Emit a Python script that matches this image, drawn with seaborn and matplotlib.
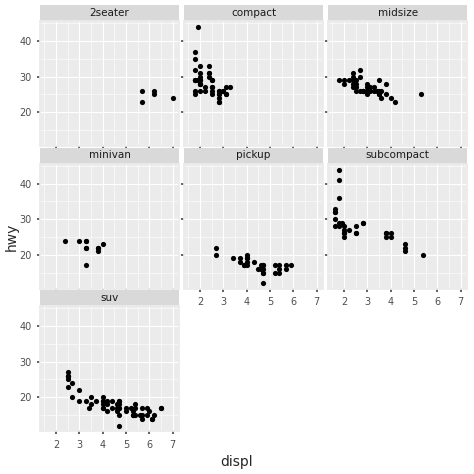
import pandas as pd
import seaborn as sns
import matplotlib.pyplot as plt

# points per class (displ, hwy)
two_seater_displ = [5.7, 5.7, 6.2, 6.2, 7.0]
two_seater_hwy = [26, 23, 26, 25, 24]

compact_displ = [1.8, 1.8, 2.0, 2.0, 2.8, 2.8, 3.1, 1.8, 1.8, 2.0, 2.0, 2.8, 2.8, 3.1, 3.1,
                 2.2, 2.2, 2.4, 2.4, 3.0, 3.0, 3.3, 1.8, 1.8, 1.8, 1.9, 2.0, 2.0, 2.5, 2.5,
                 2.8, 2.8, 2.4, 2.4, 2.5, 2.5, 2.5, 2.5, 1.9, 1.9, 2.0, 2.0, 2.8, 2.0, 1.8]
compact_hwy = [29, 29, 31, 30, 26, 26, 27, 26, 25, 28, 28, 25, 25, 25, 25,
               26, 27, 30, 33, 26, 26, 27, 37, 35, 29, 44, 29, 26, 29, 29,
               23, 24, 31, 31, 27, 26, 25, 27, 29, 29, 28, 29, 23, 33, 32]

midsize_displ = [2.4, 2.5, 2.4, 3.0, 3.5, 3.6, 2.2, 2.4, 2.4, 3.0, 3.1, 3.3, 3.5, 3.8,
                 2.5, 2.5, 3.0, 3.5, 2.4, 3.0, 4.0, 4.2, 5.3, 2.8, 2.8, 3.1, 2.7, 2.7,
                 3.4, 1.8, 2.0, 2.8, 3.5, 2.0, 3.3, 3.0, 3.8, 2.5, 2.7, 3.6, 2.4]
midsize_hwy = [29, 29, 27, 26, 25, 26, 29, 29, 31, 27, 26, 26, 29, 28,
               27, 26, 26, 26, 30, 28, 24, 23, 25, 26, 26, 27, 30, 32,
               26, 29, 29, 26, 25, 28, 27, 25, 25, 28, 26, 24, 28]

minivan_displ = [2.4, 3.0, 3.3, 3.3, 3.3, 3.3, 3.8, 3.8, 3.8, 4.0, 3.3]
minivan_hwy = [24, 24, 22, 22, 24, 24, 21, 22, 22, 23, 17]

pickup_displ = [2.7, 2.7, 3.4, 3.7, 3.9, 4.0, 4.0, 4.7, 4.7, 5.2, 5.7, 5.9, 4.7, 4.6,
                5.4, 5.4, 4.0, 4.6, 4.7, 5.2, 3.9, 4.7, 4.0, 4.0, 4.7, 5.7, 3.7, 4.3, 4.5, 5.4]
pickup_hwy = [20, 22, 19, 18, 17, 17, 19, 17, 12, 17, 16, 17, 16, 17,
              17, 15, 19, 16, 15, 15, 17, 17, 18, 20, 15, 17, 19, 18, 16, 16]

subcompact_displ = [1.8, 1.6, 1.6, 1.6, 1.8, 1.8, 1.8, 1.9, 2.0, 2.0, 2.5, 2.8, 2.8, 3.8,
                    3.8, 4.0, 4.6, 4.6, 5.4, 4.0, 4.6, 2.0, 1.6, 1.8, 2.0, 2.2, 2.5, 2.0,
                    3.8, 1.6, 2.5]
subcompact_hwy = [29, 33, 32, 32, 36, 44, 41, 29, 26, 28, 26, 29, 29, 26,
                  25, 26, 23, 21, 20, 25, 22, 27, 30, 28, 26, 27, 26, 25,
                  26, 28, 28]

suv_displ = [2.5, 2.5, 2.5, 2.5, 2.7, 3.0, 3.4, 4.0, 4.0, 4.2, 4.6, 5.3, 5.7, 6.5, 4.7,
             4.0, 5.4, 6.2, 5.3, 3.7, 4.7, 5.7, 4.4, 4.4, 4.0, 4.6, 5.0, 4.2, 5.4, 5.9,
             6.1, 4.7, 5.3, 4.0, 3.5, 3.0, 4.7, 5.6, 2.5, 2.7, 3.3, 4.0, 4.7, 5.7, 6.0,
             6.1, 5.0, 4.6, 4.7, 5.4, 3.5, 4.2, 4.7, 5.2, 6.5, 5.9]
suv_hwy = [25, 27, 26, 23, 20, 22, 17, 19, 17, 18, 17, 15, 17, 17, 12,
           17, 17, 15, 16, 19, 17, 14, 17, 19, 20, 16, 17, 16, 15, 17,
           14, 19, 15, 18, 18, 19, 15, 15, 26, 24, 19, 19, 18, 15, 16,
           14, 16, 18, 19, 18, 20, 19, 17, 17, 17, 15]

classes = ["2seater", "compact", "midsize", "minivan", "pickup", "subcompact", "suv"]
groups = [(two_seater_displ, two_seater_hwy), (compact_displ, compact_hwy),
          (midsize_displ, midsize_hwy), (minivan_displ, minivan_hwy),
          (pickup_displ, pickup_hwy), (subcompact_displ, subcompact_hwy),
          (suv_displ, suv_hwy)]

df = pd.concat([pd.DataFrame({"class": c, "displ": d, "hwy": h})
                for c, (d, h) in zip(classes, groups)])

sns.set_theme(style="darkgrid", rc={
    "axes.facecolor": "#EBEBEB", "grid.color": "white", "axes.edgecolor": "#EBEBEB",
    "xtick.color": "#4D4D4D", "ytick.color": "#4D4D4D",
    "xtick.labelsize": 7, "ytick.labelsize": 7,
    "xtick.major.size": 2.5, "ytick.major.size": 2.5,
    "xtick.bottom": True, "ytick.left": True,
})
plt.rcParams["font.family"] = ["DejaVu Sans"]

g = sns.FacetGrid(df, col="class", col_wrap=3, col_order=classes,
                  sharex=True, sharey=True, height=1.45, aspect=1.0, despine=False)
g.map_dataframe(sns.scatterplot, x="displ", y="hwy", color="black", s=14, linewidth=0)
g.set(xlim=(1.33, 7.27), ylim=(10.4, 45.6), xticks=[2, 3, 4, 5, 6, 7], yticks=[20, 30, 40])
g.set_titles("")
g.set_axis_labels("", "")

for ax, c in zip(g.axes.flat, classes):
    ax.set_xticks([1.5, 2.5, 3.5, 4.5, 5.5, 6.5], minor=True)
    ax.set_yticks([15, 25, 35, 45], minor=True)
    ax.grid(which="minor", color="white", linewidth=0.4)
    ax.grid(which="major", color="white", linewidth=0.8)
    ax.tick_params(which="minor", length=0)
    ax.set_title(c, fontsize=7.5, color="#1A1A1A", pad=4,
                 bbox=dict(facecolor="#D9D9D9", edgecolor="none", boxstyle="square,pad=0.35"))

fig = g.figure
fig.set_size_inches(4.74, 4.74)
fig.subplots_adjust(left=0.085, right=0.985, bottom=0.09, top=0.955, wspace=0.04, hspace=0.14)
for ax in g.axes.flat:
    pos = ax.get_position()
    t = ax.title
    t.set_bbox(None)
    ax.text(0.5, 1.0, "", transform=ax.transAxes)
    # strip background spanning the panel width
    from matplotlib.patches import Rectangle
    ax.add_patch(Rectangle((0, 1.0), 1, 0.13, transform=ax.transAxes, facecolor="#D9D9D9",
                           edgecolor="none", clip_on=False))
    t.set_y(1.005)
fig.supxlabel("displ", fontsize=10, y=0.01)
fig.supylabel("hwy", fontsize=10, x=0.01)
fig.savefig("out.png", dpi=100)
